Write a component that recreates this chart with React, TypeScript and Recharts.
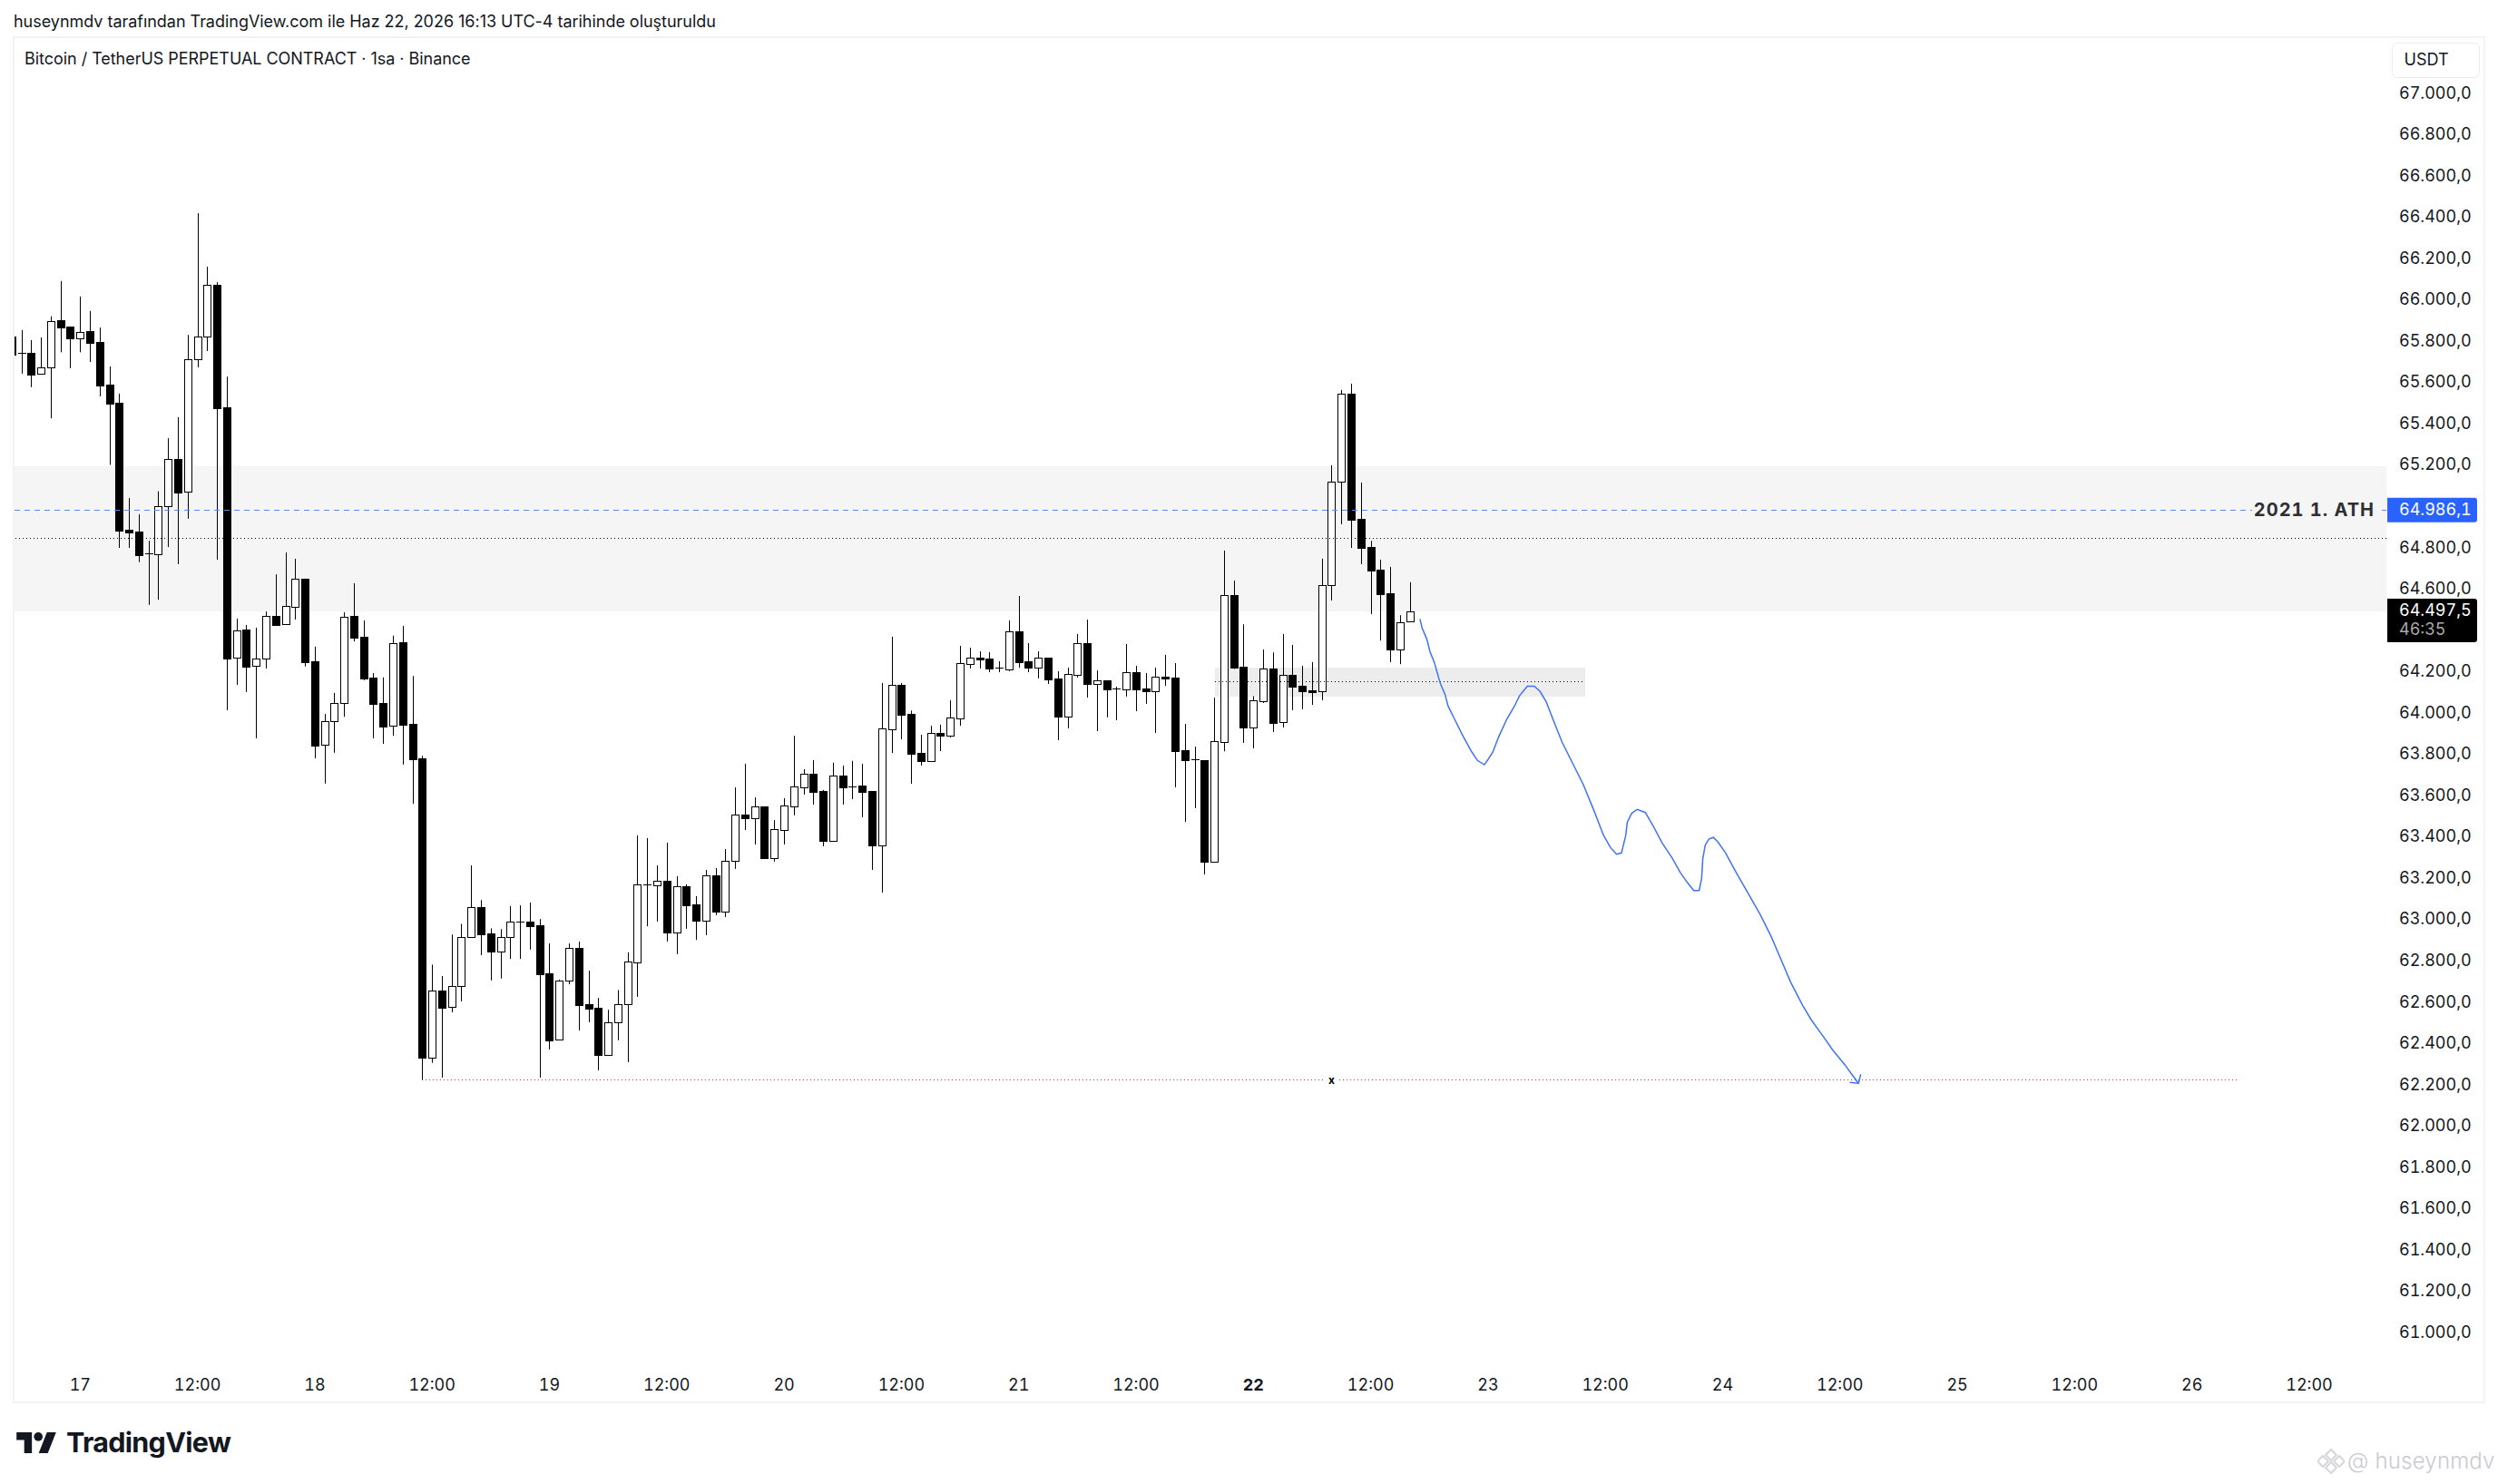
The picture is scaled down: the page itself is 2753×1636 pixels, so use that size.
import { Bar, ComposedChart, Line, ReferenceArea, ReferenceDot, ReferenceLine, XAxis, YAxis } from "recharts";

const FONT = "Inter, 'Noto Sans', sans-serif";

// hours counted from 17th 00:00, one candle per hour
const firstHour = -7;

const opens = [
  65826, 65746, 65748, 65644, 65679, 65905, 65875,
  65819, 65852, 65801, 65593, 65505, 64891, 64881, 64776, 64774, 65003,
  65234, 65074, 65715, 65828, 66077, 65483, 64270, 64407, 64231, 64266,
  64474, 64432, 64519, 64654, 64254, 63848, 63962, 64054, 64474, 64374,
  64176, 64052, 63940, 64346, 63950, 63782, 62336, 62662, 62579, 62680,
  62921, 63063, 62935, 62850, 62921, 62992, 62994, 62976, 62744, 62421,
  62706, 62867, 62594, 62577, 62350, 62504, 62596, 62798, 63173, 63171,
  63192, 62943, 63166, 63077, 62999, 63218, 63042, 63286, 63511, 63496,
  63551, 63303, 63438, 63553, 63642, 63709, 63626, 63386, 63701, 63650,
  63652, 63626, 63364, 63926, 64140, 63999, 63810, 63772, 63907, 63895,
  63979, 64242, 64272, 64267, 64222, 64216, 64399, 64254, 64225, 64272,
  64171, 63988, 64190, 64342, 64146, 64162, 64121, 64119, 64201, 64122,
  64111, 64179, 64175, 63824, 63778, 63775, 63285, 63865, 64575, 64228,
  63934, 64062, 64218, 63958, 64188, 64134, 64114, 64107, 64625, 65122,
  65549, 64944, 64806, 64697, 64583, 64312, 64449,
];
const highs = [
  65826, 65858, 65809, 65822, 65924, 66095, 65875,
  66020, 65950, 65870, 65681, 65550, 65044, 64966, 64838, 65077, 65334,
  65436, 65834, 66424, 66164, 66089, 65632, 64460, 64430, 64417, 64495,
  64675, 64781, 64750, 64654, 64325, 63999, 64101, 64491, 64632, 64452,
  64197, 64176, 64378, 64425, 64183, 63796, 62785, 62730, 62931, 62983,
  63266, 63098, 62961, 62957, 63069, 63072, 63086, 63006, 62888, 62713,
  62888, 62897, 62756, 62624, 62567, 62662, 62845, 63411, 63398, 63266,
  63376, 63213, 63174, 63117, 63244, 63253, 63345, 63643, 63758, 63595,
  63551, 63485, 63591, 63893, 63732, 63775, 63631, 63763, 63749, 63772,
  63758, 63626, 64149, 64373, 64149, 64015, 63898, 63942, 63947, 64065,
  64329, 64320, 64302, 64298, 64254, 64452, 64570, 64342, 64302, 64272,
  64206, 64223, 64386, 64456, 64210, 64162, 64131, 64337, 64232, 64197,
  64223, 64285, 64245, 63951, 63841, 63775, 64078, 64790, 64645, 64433,
  64085, 64311, 64297, 64386, 64333, 64232, 64250, 64751, 65203, 65568,
  65598, 65119, 64837, 64746, 64711, 64477, 64637,
];
const lows = [
  65738, 65646, 65581, 65644, 65430, 65750, 65673,
  65750, 65703, 65536, 65205, 64803, 64803, 64734, 64527, 64552, 64807,
  64724, 64944, 65677, 65756, 64746, 64017, 64140, 64105, 63881, 64219,
  64425, 64432, 64456, 64229, 63784, 63662, 63811, 63985, 64350, 64162,
  63881, 63854, 63893, 63754, 63564, 62228, 62310, 62238, 62554, 62607,
  62921, 62831, 62709, 62718, 62813, 62813, 62858, 62238, 62374, 62421,
  62690, 62466, 62506, 62273, 62350, 62419, 62313, 62629, 62971, 62994,
  62897, 62836, 62959, 62905, 62928, 63025, 63016, 63249, 63437, 63367,
  63301, 63284, 63367, 63508, 63609, 63560, 63358, 63386, 63560, 63586,
  63499, 63244, 63134, 63810, 63876, 63661, 63749, 63767, 63819, 63885,
  63942, 64219, 64219, 64201, 64201, 64206, 64223, 64201, 64171, 64144,
  63872, 63929, 64175, 64078, 63916, 63982, 63968, 64083, 64012, 64048,
  63907, 64135, 63644, 63477, 63543, 63222, 63285, 63818, 64217, 63859,
  63832, 64052, 63911, 63933, 64017, 64022, 64043, 64065, 64548, 64917,
  64803, 64724, 64482, 64354, 64250, 64240, 64444,
];
const closes = [
  65738, 65746, 65642, 65679, 65903, 65870, 65817,
  65850, 65795, 65589, 65501, 64887, 64877, 64768, 64776, 65003, 65232,
  65072, 65715, 65828, 66075, 65479, 64268, 64405, 64229, 64266, 64472,
  64430, 64521, 64652, 64250, 63846, 63962, 64054, 64468, 64368, 64170,
  64048, 63938, 64344, 63946, 63780, 62336, 62662, 62577, 62680, 62921,
  63062, 62933, 62848, 62921, 62992, 62992, 62971, 62739, 62419, 62707,
  62865, 62589, 62572, 62348, 62504, 62596, 62799, 63173, 63173, 63190,
  62942, 63164, 63072, 62997, 63216, 63042, 63286, 63510, 63494, 63550,
  63301, 63440, 63555, 63647, 63708, 63622, 63385, 63699, 63643, 63650,
  63622, 63362, 63928, 64138, 63995, 63806, 63771, 63906, 63894, 63980,
  64244, 64270, 64263, 64219, 64222, 64397, 64250, 64223, 64270, 64166,
  63986, 64191, 64340, 64144, 64160, 64118, 64121, 64200, 64118, 64109,
  64178, 64171, 63819, 63775, 63778, 63283, 63866, 64573, 64223, 63933,
  64064, 64217, 63956, 64186, 64131, 64109, 64106, 64625, 65122, 65548,
  64939, 64803, 64694, 64580, 64311, 64445, 64497.5,
];

// the hand drawn projection
const pathHours = [
  137.04, 137.26, 137.76, 138.06, 138.5, 138.81, 139.12, 139.61, 139.92, 140.6, 141.38, 142.3, 142.92, 143.63, 143.94,
  144.5, 145.09, 145.95, 146.63, 147.25, 148.03, 148.74, 149.33, 149.94, 150.66, 151.58, 152.67, 153.75, 154.83, 155.82,
  156.53, 157.15, 157.65, 158.08, 158.24, 158.7, 159.26, 160.09, 160.87, 161.79, 162.88, 163.65, 164.42, 165.04, 165.6,
  165.85, 165.97, 166.22, 166.59, 167.05, 167.52, 168.29, 169.37, 170.61, 171.85, 172.93, 173.86, 174.94, 176.18, 177.11,
  178.34, 179.27, 180.51, 181.13, 181.9,
];
const pathPrices = [
  64459, 64415, 64359, 64301, 64250, 64198, 64147, 64093, 64037, 63972, 63898, 63818, 63774, 63753, 63774,
  63815, 63888, 63976, 64030, 64089, 64133, 64133, 64108, 64059, 63972, 63862, 63759, 63657, 63532, 63411,
  63352, 63320, 63326, 63408, 63474, 63518, 63537, 63522, 63459, 63376, 63298, 63232, 63181, 63144, 63144,
  63203, 63298, 63364, 63393, 63401, 63379, 63327, 63232, 63130, 63027, 62925, 62822, 62702, 62588, 62515,
  62434, 62371, 62300, 62259, 62211,
];
const arrowHours = [182.12, 181.9, 181.0];
const arrowPrices = [62254, 62211, 62215];

const priceTicks = [
  67000, 66800, 66600, 66400, 66200, 66000, 65800, 65600, 65400, 65200, 64800, 64600, 64200, 64000, 63800, 63600,
  63400, 63200, 63000, 62800, 62600, 62400, 62200, 62000, 61800, 61600, 61400, 61200, 61000,
];
const timeTicks = [0, 12, 24, 36, 48, 60, 72, 84, 96, 108, 120, 132, 144, 156, 168, 180, 192, 204, 216, 228];
const timeLabels = [
  "17", "12:00", "18", "12:00", "19", "12:00", "20", "12:00", "21", "12:00",
  "22", "12:00", "23", "12:00", "24", "12:00", "25", "12:00", "26", "12:00",
];

const xDomain = [-6.71, 235.89];
const yDomain = [60868, 67271.1];

const athPrice = 64986.1;
const lastPrice = 64497.5;
const zoneTop = 65198;
const zoneBottom = 64496;
const zoneMid = 64850;
const smallZoneTop = 64223;
const smallZoneBottom = 64083;
const smallZoneMid = 64156;
const smallZoneStart = 116.07;
const smallZoneEnd = 153.94;
const targetPrice = 62228;

const candles = opens.map((open, i) => ({
  h: firstHour + i,
  open,
  high: highs[i],
  low: lows[i],
  close: closes[i],
  range: [lows[i], highs[i]],
}));
const projection = pathHours.map((h, i) => ({ h, y: pathPrices[i] }));
const arrowHead = arrowHours.map((h, i) => ({ h, y: arrowPrices[i] }));

function Candle(props: any) {
  const { x, y, width, height, payload } = props;
  const perUnit = height / (payload.high - payload.low || 1);
  const cx = Math.round(x + width / 2) + 0.5;
  const yOf = (p: number) => y + (payload.high - p) * perUnit;
  const top = Math.round(yOf(Math.max(payload.open, payload.close))) + 0.5;
  const bottom = Math.round(yOf(Math.min(payload.open, payload.close))) + 0.5;
  const up = payload.close >= payload.open;
  return (
    <g>
      <line x1={cx} x2={cx} y1={y} y2={y + height} stroke="#000" strokeWidth={1} />
      {payload.close === payload.open ? (
        <line x1={cx - 4.5} x2={cx + 4.5} y1={top} y2={top} stroke="#000" strokeWidth={1} />
      ) : (
        <rect x={cx - 4} y={top} width={8} height={Math.max(bottom - top, 1)} fill={up ? "#fff" : "#000"} stroke="#000" strokeWidth={1} />
      )}
    </g>
  );
}

function PriceTag(props: any) {
  const { viewBox, text, sub, color, note, up, boxHeight } = props;
  const right = viewBox.x + viewBox.width;
  const y = viewBox.y;
  const top = y - up;
  return (
    <g fontFamily={FONT} fontSize={18}>
      {note ? (
        <text x={right - 13} y={y} textAnchor="end" dominantBaseline="central" fontSize={20} fontWeight={700} fill="#2e2e35" letterSpacing={1}>
          {note}
        </text>
      ) : null}
      <path
        d={`M${right + 1} ${top}h96a3 3 0 0 1 3 3v${boxHeight - 6}a3 3 0 0 1 -3 3h-96z`}
        fill={color}
      />
      <text x={right + 14} y={top + 12.5} dominantBaseline="central" fill="#fff">
        {text}
      </text>
      {sub ? (
        <text x={right + 14} y={top + 33} dominantBaseline="central" fill="#a9a9a9">
          {sub}
        </text>
      ) : null}
    </g>
  );
}

function TimeTick(props: any) {
  const { x, y, index } = props;
  const label = timeLabels[index];
  return (
    <text x={x} y={y} textAnchor="middle" dominantBaseline="central" fontFamily={FONT} fontSize={18} fontWeight={label === "22" ? 700 : 400} fill="#131722">
      {label}
    </text>
  );
}

function formatPrice(v: number) {
  return v.toLocaleString("tr-TR", { minimumFractionDigits: 1, maximumFractionDigits: 1 });
}

function App() {
  return (
    <div style={{ position: "absolute", left: 0, top: 0, width: 2753, height: 1636, background: "#fff", overflow: "hidden", fontFamily: FONT, color: "#131722" }}>
      <div style={{ position: "absolute", left: 15, top: 13, fontSize: 18, lineHeight: "22px", letterSpacing: -0.03, whiteSpace: "nowrap" }}>
        huseynmdv tarafından TradingView.com ile Haz 22, 2026 16:13 UTC-4 tarihinde oluşturuldu
      </div>
      <div style={{ position: "absolute", left: 14, top: 40, width: 2721, height: 1503, border: "2px solid #f3f3f5" }} />
      <div style={{ position: "absolute", left: 27, top: 54, fontSize: 18, lineHeight: "22px", letterSpacing: -0.04, whiteSpace: "nowrap" }}>
        Bitcoin / TetherUS PERPETUAL CONTRACT · 1sa · Binance
      </div>
      <div style={{ position: "absolute", left: 2636, top: 47, width: 95, height: 37, border: "1px solid #ececf0", borderRadius: 6 }}>
        <div style={{ position: "absolute", left: 12.5, top: 7, fontSize: 18, lineHeight: "22px" }}>USDT</div>
      </div>

      <ComposedChart
        width={2753}
        height={1636}
        data={candles}
        margin={{ top: 42, right: 0, bottom: 91, left: 16 }}
        style={{ position: "absolute", left: 0, top: 0, fontVariantNumeric: "tabular-nums" }}
      >
        <XAxis
          type="number"
          dataKey="h"
          domain={xDomain}
          allowDataOverflow
          ticks={timeTicks}
          interval={0}
          height={45}
          axisLine={false}
          tickLine={false}
          tick={<TimeTick />}
          tickMargin={26}
          tickSize={0}
        />
        <YAxis
          orientation="right"
          type="number"
          domain={yDomain}
          allowDataOverflow
          ticks={priceTicks}
          interval={0}
          width={123}
          axisLine={false}
          tickLine={false}
          tickSize={0}
          tickMargin={14}
          tickFormatter={formatPrice}
          tick={{ fontFamily: FONT, fontSize: 18, fill: "#131722", dy: -1.5, textAnchor: "start" }}
        />

        <ReferenceArea y1={zoneBottom} y2={zoneTop} fill="#f5f5f5" fillOpacity={1} stroke="none" />
        <ReferenceArea x1={smallZoneStart} x2={smallZoneEnd} y1={smallZoneBottom} y2={smallZoneTop} fill="#ededed" fillOpacity={1} stroke="none" />
        <ReferenceLine y={zoneMid} stroke="#000" strokeWidth={1} strokeDasharray="1 3" shapeRendering="crispEdges" />
        <ReferenceLine
          segment={[{ x: smallZoneStart, y: smallZoneMid }, { x: smallZoneEnd, y: smallZoneMid }]}
          stroke="#000"
          strokeWidth={1}
          strokeDasharray="1 3"
          shapeRendering="crispEdges"
        />
        <ReferenceLine
          segment={[{ x: xDomain[0], y: athPrice }, { x: 222.2, y: athPrice }]}
          stroke="#5f86f7"
          strokeWidth={1}
          strokeDasharray="6 5"
          shapeRendering="crispEdges"
        />
        <ReferenceLine
          segment={[{ x: 235.4, y: athPrice }, { x: xDomain[1], y: athPrice }]}
          stroke="#5f86f7"
          strokeWidth={1}
          shapeRendering="crispEdges"
        />
        <ReferenceLine
          segment={[{ x: 35, y: targetPrice }, { x: 127.27, y: targetPrice }]}
          stroke="#e91e63"
          strokeWidth={1}
          strokeDasharray="1 3"
          shapeRendering="crispEdges"
        />
        <ReferenceLine
          segment={[{ x: 128.77, y: targetPrice }, { x: 220.83, y: targetPrice }]}
          stroke="#e91e63"
          strokeWidth={1}
          strokeDasharray="1 3"
          shapeRendering="crispEdges"
        />
        <ReferenceDot
          x={128}
          y={targetPrice}
          r={0}
          stroke="none"
          label={{ value: "x", position: "center", fontFamily: FONT, fontSize: 12, fontWeight: 700, fill: "#000" }}
        />

        <Bar dataKey="range" barSize={9} shape={<Candle />} isAnimationActive={false} />

        <Line data={projection} dataKey="y" type="linear" stroke="#3f72f5" strokeWidth={1.5} dot={false} isAnimationActive={false} />
        <Line data={arrowHead} dataKey="y" type="linear" stroke="#3f72f5" strokeWidth={1.5} dot={false} isAnimationActive={false} />

        <ReferenceLine
          y={athPrice}
          stroke="none"
          label={<PriceTag text={formatPrice(athPrice)} color="#2962ff" note="2021 1. ATH" up={13.5} boxHeight={27} />}
        />
        <ReferenceLine
          y={lastPrice}
          stroke="none"
          label={<PriceTag text={formatPrice(lastPrice)} sub="46:35" color="#000" up={13.5} boxHeight={48} />}
        />
      </ComposedChart>

      <div style={{ position: "absolute", left: 18, top: 1578, display: "flex", alignItems: "center" }}>
        <svg width={44} height={23} viewBox="0 0 36 19" style={{ display: "block" }}>
          <path d="M14 19H7V7H0V0h14v19zM28.5 19h-8.3L27.7 0H36l-7.5 19z" fill="#131722" />
          <circle cx={19.8} cy={4} r={4} fill="#131722" />
        </svg>
        <span style={{ marginLeft: 11, fontSize: 30.5, fontWeight: 700, letterSpacing: -0.7, lineHeight: "24px" }}>TradingView</span>
      </div>

      <svg width={30} height={30} viewBox="0 0 30 30" style={{ position: "absolute", left: 2554, top: 1596 }}>
        <g fill="none" stroke="#d6d6dc" strokeWidth={2}>
          <path d="M15 2l6 6-6 6-6-6z" />
          <path d="M15 16l6 6-6 6-6-6z" />
          <path d="M6 9l6 6-6 6-6-6z" />
          <path d="M24 9l6 6-6 6-6-6z" />
        </g>
      </svg>
      <div style={{ position: "absolute", left: 2587, top: 1595, fontSize: 24, lineHeight: "32px", color: "#c9c9d0", fontWeight: 300, letterSpacing: 0.2, whiteSpace: "nowrap" }}>
        @ huseynmdv
      </div>
    </div>
  );
}

export default App;
